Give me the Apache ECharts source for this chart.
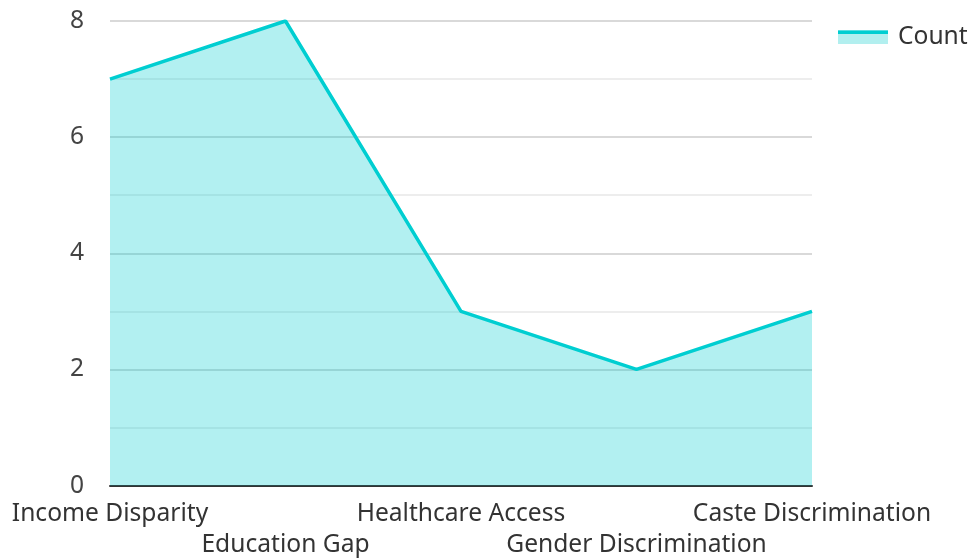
<!DOCTYPE html>
<html><head><meta charset="utf-8">
<script src="https://cdn.jsdelivr.net/npm/echarts@6/dist/echarts.min.js"></script>
<style>html,body{margin:0;padding:0;background:#fff;overflow:hidden}#c{width:970px;height:560px}</style>
</head><body><div id="c"></div>
<script>
const categories = ["Income Disparity","Education Gap","Healthcare Access","Gender Discrimination","Caste Discrimination"];
const counts = [7, 8, 3, 2, 3];
const seriesName = "Count";

const chart = echarts.init(document.getElementById('c'), null, {renderer:'canvas'});
const font = '"Noto Sans", "Open Sans", sans-serif';
chart.setOption({
  animation: false,
  textStyle: {fontFamily: font},
  grid: {left: 110, right: 158, top: 21, bottom: 72},
  legend: {
    left: 838, top: 19, padding: 0, itemWidth: 50, itemHeight: 14, icon: 'rect', itemGap: 0,
    itemStyle: {color: '#b2efef'},
    textStyle: {fontSize: 24.6, lineHeight: 24, color: '#333', fontFamily: font, padding: [0,0,12,5]},
    data: [seriesName]
  },
  graphic: [{type:'rect', left: 838, top: 30.5, shape:{width:50, height:3.5}, style:{fill:'#00ced1'}, z: 100}],
  xAxis: {
    type: 'category', data: categories, boundaryGap: false,
    axisLine: {lineStyle: {color: '#333', width: 2}},
    axisTick: {show: false},
    axisLabel: {
      interval: 0, fontSize: 24.6, color: '#333', margin: 12.5, lineHeight: 31, fontFamily: font,
      formatter: (v, i) => i % 2 ? '\n' + v : v
    }
  },
  yAxis: {
    type: 'value', min: 0, max: 8, interval: 2,
    axisLine: {show: false}, axisTick: {show: false},
    axisLabel: {fontSize: 24.6, color: '#444', margin: 26, fontFamily: font},
    splitLine: {lineStyle: {color: '#cccccc', width: 1.5}},
    minorTick: {show: false, splitNumber: 2},
    minorSplitLine: {show: true, lineStyle: {color: '#e8e8e8', width: 1.5}}
  },
  series: [{
    name: seriesName, type: 'line', data: counts, symbol: 'none',
    lineStyle: {color: '#00ced1', width: 3.5},
    itemStyle: {color: '#00ced1'},
    areaStyle: {color: '#00ced1', opacity: 0.3},
    z: 3
  }]
});
</script></body></html>
